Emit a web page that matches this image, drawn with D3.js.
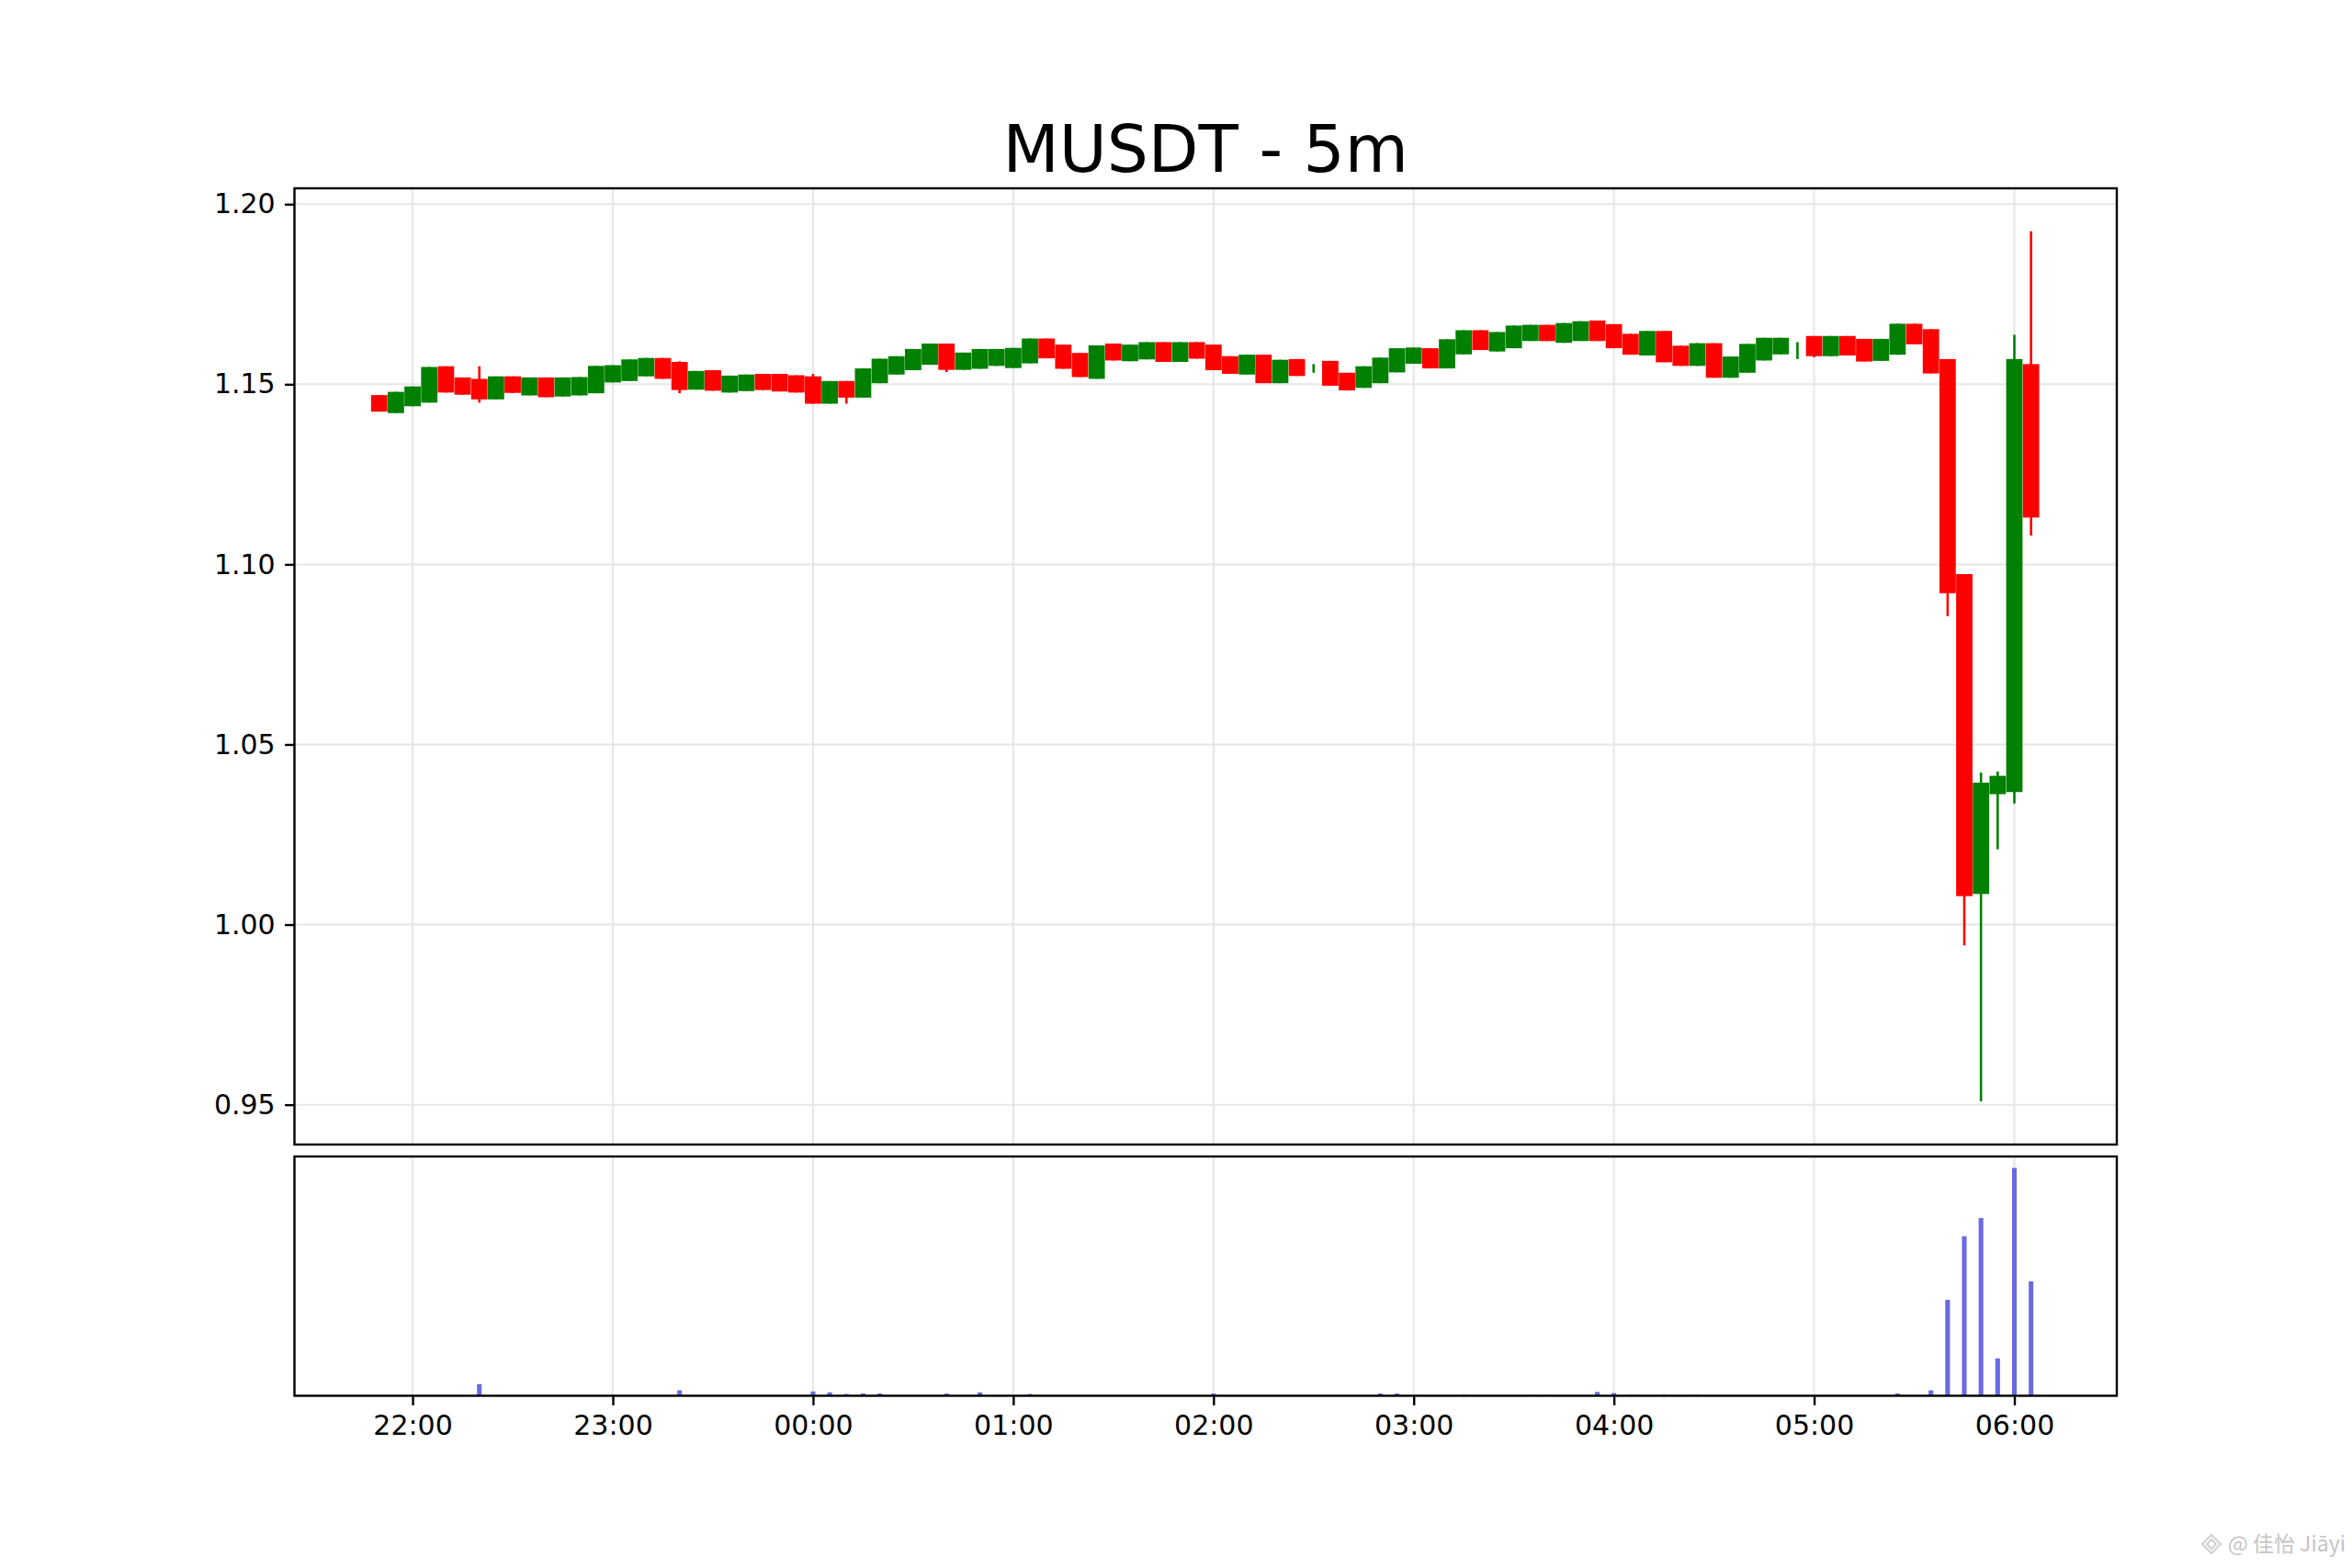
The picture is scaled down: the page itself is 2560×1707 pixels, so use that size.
<!DOCTYPE html>
<html>
<head>
<meta charset="utf-8">
<script src="https://cdn.jsdelivr.net/npm/d3@7"></script>
<style>
  body { margin: 0; background: #ffffff; }
  svg { display: block; font-family: "DejaVu Sans", sans-serif; }
</style>
</head>
<body>
<svg id="chart"></svg>
<script>

// 5 minute candles, MUSDT
var times = [
  "21:50","21:55","22:00","22:05","22:10","22:15","22:20","22:25","22:30","22:35",
  "22:40","22:45","22:50","22:55","23:00","23:05","23:10","23:15","23:20","23:25",
  "23:30","23:35","23:40","23:45","23:50","23:55","00:00","00:05","00:10","00:15",
  "00:20","00:25","00:30","00:35","00:40","00:45","00:50","00:55","01:00","01:05",
  "01:10","01:15","01:20","01:25","01:30","01:35","01:40","01:45","01:50","01:55",
  "02:00","02:05","02:10","02:15","02:20","02:25","02:30","02:35","02:40","02:45",
  "02:50","02:55","03:00","03:05","03:10","03:15","03:20","03:25","03:30","03:35",
  "03:40","03:45","03:50","03:55","04:00","04:05","04:10","04:15","04:20","04:25",
  "04:30","04:35","04:40","04:45","04:50","04:55","05:00","05:05","05:10","05:15",
  "05:20","05:25","05:30","05:35","05:40","05:45","05:50","05:55","06:00","06:05"
];

var opens = [
  1.1470,1.1420,1.1439,1.1449,1.1550,1.1519,1.1515,1.1458,1.1522,1.1469,
  1.1519,1.1466,1.1469,1.1475,1.1505,1.1509,1.1522,1.1573,1.1562,1.1485,
  1.1539,1.1477,1.1481,1.1529,1.1529,1.1525,1.1522,1.1446,1.1509,1.1463,
  1.1503,1.1527,1.1539,1.1554,1.1613,1.1540,1.1543,1.1551,1.1545,1.1558,
  1.1627,1.1610,1.1587,1.1515,1.1613,1.1564,1.1569,1.1617,1.1562,1.1617,
  1.1610,1.1578,1.1527,1.1582,1.1503,1.1570,1.1544,1.1565,1.1532,1.1490,
  1.1503,1.1533,1.1557,1.1600,1.1544,1.1583,1.1650,1.1591,1.1600,1.1620,
  1.1665,1.1615,1.1620,1.1677,1.1667,1.1640,1.1580,1.1648,1.1607,1.1551,
  1.1614,1.1518,1.1532,1.1566,1.1583,1.1595,1.1634,1.1578,1.1634,1.1626,
  1.1565,1.1582,1.1668,1.1653,1.1570,1.0973,1.0085,1.0362,1.0368,1.1556
];

var highs = [
  1.1470,1.1479,1.1494,1.1548,1.1550,1.1519,1.1550,1.1522,1.1522,1.1519,
  1.1519,1.1519,1.1520,1.1551,1.1553,1.1569,1.1573,1.1573,1.1564,1.1537,
  1.1539,1.1524,1.1527,1.1529,1.1529,1.1525,1.1529,1.1509,1.1509,1.1544,
  1.1571,1.1578,1.1598,1.1613,1.1613,1.1588,1.1598,1.1598,1.1601,1.1627,
  1.1627,1.1610,1.1587,1.1608,1.1613,1.1610,1.1617,1.1617,1.1617,1.1617,
  1.1610,1.1578,1.1582,1.1582,1.1568,1.1570,1.1556,1.1565,1.1532,1.1550,
  1.1574,1.1600,1.1602,1.1600,1.1625,1.1650,1.1650,1.1645,1.1663,1.1665,
  1.1665,1.1670,1.1675,1.1677,1.1667,1.1640,1.1648,1.1648,1.1607,1.1614,
  1.1614,1.1577,1.1612,1.1629,1.1629,1.1617,1.1634,1.1634,1.1634,1.1626,
  1.1626,1.1668,1.1668,1.1653,1.1570,1.0973,1.0422,1.0425,1.1637,1.1925
];

var lows = [
  1.1424,1.1420,1.1439,1.1449,1.1477,1.1471,1.1449,1.1458,1.1476,1.1469,
  1.1464,1.1466,1.1469,1.1475,1.1505,1.1509,1.1522,1.1515,1.1475,1.1485,
  1.1482,1.1477,1.1481,1.1484,1.1480,1.1477,1.1446,1.1446,1.1446,1.1463,
  1.1503,1.1527,1.1539,1.1554,1.1534,1.1540,1.1543,1.1551,1.1545,1.1558,
  1.1572,1.1543,1.1520,1.1515,1.1566,1.1564,1.1569,1.1562,1.1562,1.1571,
  1.1539,1.1529,1.1527,1.1503,1.1503,1.1523,1.1532,1.1496,1.1483,1.1490,
  1.1503,1.1533,1.1557,1.1544,1.1544,1.1583,1.1595,1.1591,1.1600,1.1620,
  1.1620,1.1615,1.1620,1.1620,1.1600,1.1582,1.1580,1.1561,1.1551,1.1551,
  1.1518,1.1518,1.1532,1.1566,1.1583,1.1570,1.1575,1.1578,1.1580,1.1563,
  1.1565,1.1582,1.1611,1.1530,1.0856,0.9942,0.9509,1.0209,1.0336,1.1080
];

var closes = [
  1.1424,1.1479,1.1494,1.1548,1.1477,1.1471,1.1458,1.1522,1.1476,1.1519,
  1.1464,1.1519,1.1520,1.1551,1.1553,1.1569,1.1573,1.1515,1.1484,1.1537,
  1.1482,1.1524,1.1527,1.1484,1.1480,1.1477,1.1446,1.1509,1.1463,1.1544,
  1.1571,1.1578,1.1598,1.1613,1.1540,1.1588,1.1598,1.1598,1.1601,1.1627,
  1.1572,1.1543,1.1520,1.1608,1.1566,1.1610,1.1617,1.1562,1.1617,1.1571,
  1.1539,1.1529,1.1582,1.1503,1.1568,1.1523,1.1544,1.1496,1.1483,1.1550,
  1.1574,1.1600,1.1602,1.1544,1.1625,1.1650,1.1595,1.1645,1.1663,1.1665,
  1.1620,1.1670,1.1675,1.1620,1.1600,1.1582,1.1648,1.1561,1.1551,1.1614,
  1.1518,1.1577,1.1612,1.1629,1.1629,1.1595,1.1578,1.1634,1.1580,1.1563,
  1.1626,1.1668,1.1611,1.1530,1.0920,1.0079,1.0394,1.0413,1.1570,1.1130
];

// volume, relative units (06:00 candle = 100)
var volumes = [
  0.2,0.2,0.2,0.2,0.2,0.2,5.1,0.2,0.2,0.2,
  0.2,0.2,0.2,0.2,0.2,0.2,0.2,0.2,2.4,0.2,
  0.2,0.2,0.2,0.2,0.2,0.2,1.9,1.5,0.8,1.0,
  1.0,0.2,0.2,0.2,1.0,0.2,1.5,0.2,0.2,0.8,
  0.2,0.2,0.2,0.2,0.2,0.2,0.2,0.2,0.2,0.2,
  1.0,0.2,0.2,0.2,0.2,0.2,0.2,0.2,0.2,0.2,
  1.0,1.0,0.2,0.2,0.2,0.4,0.2,0.2,0.2,0.4,
  0.4,0.2,0.2,1.7,1.2,0.4,0.2,0.4,0.2,0.4,
  0.2,0.2,0.2,0.2,0.2,0.2,0.2,0.2,0.2,0.2,
  0.2,1.0,0.2,2.4,42.1,70.0,78.0,16.4,100.0,50.2
];

var priceTicks = [0.95, 1.00, 1.05, 1.10, 1.15, 1.20];
var hourTicks = ["22:00","23:00","00:00","01:00","02:00","03:00","04:00","05:00","06:00"];

var titleText = "MUSDT - 5m";


var width = 2560;
var height = 1707;

var left = 320.5;
var right = 2304;
var priceTop = 205;
var priceBottom = 1246;
var volTop = 1259;
var volBottom = 1519.5;

var upColor = "#008000";
var downColor = "#ff0000";
var volColor = "#6a6ae4";
var gridColor = "#e6e6e6";

// evening times are on the first day, morning times on the next
function toDate(s){
  var h = +s.slice(0, 2);
  var m = +s.slice(3, 5);
  var day = h >= 12 ? 1 : 2;
  return new Date(Date.UTC(2000, 0, day, h, m));
}

var candles = times.map(function(t, i){
  return {
    time: toDate(t),
    open: opens[i],
    high: highs[i],
    low: lows[i],
    close: closes[i],
    volume: volumes[i]
  };
});

var svg = d3.select("#chart")
  .attr("width", width)
  .attr("height", height);

svg.append("rect")
  .attr("width", width)
  .attr("height", height)
  .attr("fill", "#ffffff");

// Scales
var xScale = d3.scaleUtc()
  .domain([new Date(Date.UTC(2000, 0, 1, 21, 24, 36)), new Date(Date.UTC(2000, 0, 2, 6, 30, 42))])
  .range([left, right]);

var yScale = d3.scaleLinear()
  .domain([0.93894, 1.2044])
  .range([priceBottom, priceTop]);

var volScale = d3.scaleLinear()
  .domain([0, 105])
  .range([volBottom, volTop]);

var step = xScale(toDate("22:05")) - xScale(toDate("22:00"));
var bodyWidth = step * 0.98;
var volWidth = step * 0.28;

var hourDates = hourTicks.map(toDate);

// Grid lines
var grid = svg.append("g").attr("class", "grid");

grid.selectAll(".vgridPrice")
  .data(hourDates)
  .enter()
  .append("line")
  .attr("x1", function(d){ return xScale(d); })
  .attr("x2", function(d){ return xScale(d); })
  .attr("y1", priceTop)
  .attr("y2", priceBottom)
  .attr("stroke", gridColor)
  .attr("stroke-width", 2);

grid.selectAll(".vgridVol")
  .data(hourDates)
  .enter()
  .append("line")
  .attr("x1", function(d){ return xScale(d); })
  .attr("x2", function(d){ return xScale(d); })
  .attr("y1", volTop)
  .attr("y2", volBottom)
  .attr("stroke", gridColor)
  .attr("stroke-width", 2);

grid.selectAll(".hgrid")
  .data(priceTicks)
  .enter()
  .append("line")
  .attr("x1", left)
  .attr("x2", right)
  .attr("y1", function(d){ return yScale(d); })
  .attr("y2", function(d){ return yScale(d); })
  .attr("stroke", gridColor)
  .attr("stroke-width", 2);

// Candles: wick first, then the body
var candleGroup = svg.append("g").attr("class", "candles");

candleGroup.selectAll(".wick")
  .data(candles)
  .enter()
  .append("line")
  .attr("class", "wick")
  .attr("x1", function(d){ return xScale(d.time); })
  .attr("x2", function(d){ return xScale(d.time); })
  .attr("y1", function(d){ return yScale(d.high); })
  .attr("y2", function(d){ return yScale(d.low); })
  .attr("stroke", function(d){ return d.close >= d.open ? upColor : downColor; })
  .attr("stroke-width", 2.6);

candleGroup.selectAll(".body")
  .data(candles)
  .enter()
  .append("rect")
  .attr("class", "body")
  .attr("x", function(d){ return xScale(d.time) - bodyWidth / 2; })
  .attr("y", function(d){ return yScale(Math.max(d.open, d.close)); })
  .attr("width", bodyWidth)
  .attr("height", function(d){ return Math.abs(yScale(d.open) - yScale(d.close)); })
  .attr("fill", function(d){ return d.close >= d.open ? upColor : downColor; });

// Volume bars
svg.append("g")
  .selectAll("rect")
  .data(candles)
  .enter()
  .append("rect")
  .attr("x", function(d){ return xScale(d.time) - volWidth / 2; })
  .attr("y", function(d){ return volScale(d.volume); })
  .attr("width", volWidth)
  .attr("height", function(d){ return volScale(0) - volScale(d.volume); })
  .attr("fill", volColor);

// Axes
var yAxis = svg.append("g")
  .attr("transform", "translate(" + left + ",0)")
  .call(d3.axisLeft(yScale)
    .tickValues(priceTicks)
    .tickFormat(d3.format(".2f"))
    .tickSize(10.4)
    .tickPadding(10.4));

var xAxis = svg.append("g")
  .attr("transform", "translate(0," + volBottom + ")")
  .call(d3.axisBottom(xScale)
    .tickValues(hourDates)
    .tickFormat(d3.utcFormat("%H:%M"))
    .tickSize(10.4)
    .tickPadding(10.4));

[yAxis, xAxis].forEach(function(ax){
  ax.select(".domain").remove();
  ax.selectAll(".tick line")
    .attr("stroke", "#000000")
    .attr("stroke-width", 2.4);
  ax.selectAll(".tick text")
    .attr("fill", "#000000")
    .style("font-family", "DejaVu Sans, sans-serif")
    .style("font-size", "30px");
});

// Frames of both panels
svg.append("rect")
  .attr("x", left)
  .attr("y", priceTop)
  .attr("width", right - left)
  .attr("height", priceBottom - priceTop)
  .attr("fill", "none")
  .attr("stroke", "#000000")
  .attr("stroke-width", 2.4);

svg.append("rect")
  .attr("x", left)
  .attr("y", volTop)
  .attr("width", right - left)
  .attr("height", volBottom - volTop)
  .attr("fill", "none")
  .attr("stroke", "#000000")
  .attr("stroke-width", 2.4);

// Title
svg.append("text")
  .attr("x", (left + right) / 2)
  .attr("y", 187)
  .style("text-anchor", "middle")
  .style("font-family", "DejaVu Sans, sans-serif")
  .style("font-size", "71px")
  .attr("fill", "#000000")
  .text(titleText);

// Watermark bottom right, small diamond icon plus text
var mark = svg.append("g").attr("class", "watermark");

mark.append("path")
  .attr("d", "M2407,1671 L2417,1681 L2407,1691 L2397,1681 Z M2407,1676 L2412,1681 L2407,1686 L2402,1681 Z")
  .attr("fill", "none")
  .attr("stroke", "#d0d0d0")
  .attr("stroke-width", 2);

mark.append("text")
  .attr("x", 2553)
  .attr("y", 1689)
  .style("text-anchor", "end")
  .style("font-family", "Noto Sans CJK SC, sans-serif")
  .style("font-size", "23px")
  .attr("fill", "#c4c4c4")
  .text("@ 佳怡 Jiāyi");

</script>
</body>
</html>
